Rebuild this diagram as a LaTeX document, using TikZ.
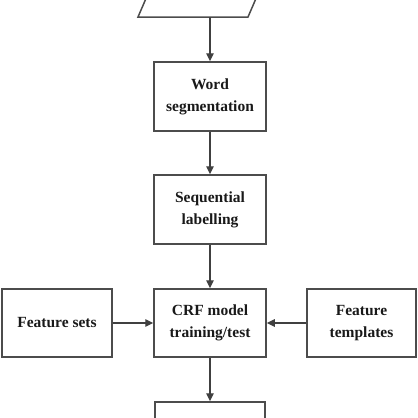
\documentclass[tikz,border=0pt]{standalone}
\usepackage{fontspec}
\setmainfont{Liberation Serif}
\usetikzlibrary{arrows.meta}
\tikzset{
  boxn/.style={draw=black!70, line width=1.5pt, minimum width=112pt, minimum height=69pt, inner sep=0pt,
    align=center, font=\bfseries\fontsize{15.5}{22}\selectfont, text=black!90},
  arr/.style={draw=black!75, line width=1.3pt, -{Triangle[length=8pt,width=7.5pt]}}
}
\begin{document}
\begin{tikzpicture}[x=1pt,y=-1pt]
\useasboundingbox (0,0) rectangle (418,418);
\clip (0,0) rectangle (418,418);
\draw[draw=black!70, line width=1.5pt] (138,17) -- (248,17) -- (264,-20) -- (154,-20) -- cycle;
\coordinate (src) at (210,17);
\node[boxn] (ws) at (210,96.5) {Word\\segmentation};
\node[boxn] (sl) at (210,209.5) {Sequential\\labelling};
\node[boxn, minimum height=68pt] (crf) at (210,323) {CRF model\\training/test};
\node[boxn, minimum width=110pt, minimum height=68pt] (fs) at (57,323) {Feature sets};
\node[boxn, minimum width=109pt, minimum height=68pt] (ft) at (361.5,323) {Feature\\templates};
\node[boxn, minimum width=110pt, minimum height=69pt] (out) at (210,436.5) {};
\draw[arr] (src) -- (ws.north);
\draw[arr] (ws) -- (sl);
\draw[arr] (sl) -- (crf);
\draw[arr] (fs) -- (crf);
\draw[arr] (ft) -- (crf);
\draw[arr] (crf) -- (out);
\end{tikzpicture}
\end{document}
